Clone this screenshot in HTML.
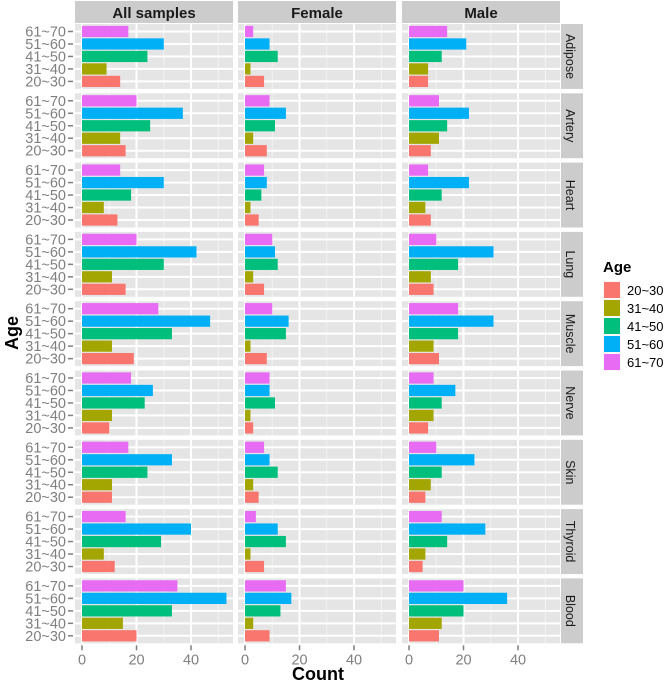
<!DOCTYPE html>
<html><head><meta charset="utf-8"><style>
body{margin:0;background:#fff;}
svg{display:block;font-family:"Liberation Sans",Arial,sans-serif;}
</style></head><body>
<svg id="c" width="671" height="685" viewBox="0 0 671 685" xmlns="http://www.w3.org/2000/svg"></svg>
<script>
const columns = ["All samples","Female","Male"];
const tissues = ["Adipose","Artery","Heart","Lung","Muscle","Nerve","Skin","Thyroid","Blood"];
const ageGroups = ["20~30","31~40","41~50","51~60","61~70"];
const colors = ["#F8766D","#A3A500","#00BF7D","#00B0F6","#E76BF3"];
const xTicks = [0,20,40];
// values per tissue: [20~30, 31~40, 41~50, 51~60, 61~70]
const allSamples = [[14,9,24,30,17],[16,14,25,37,20],[13,8,18,30,14],[16,11,30,42,20],[19,11,33,47,28],[10,11,23,26,18],[11,11,24,33,17],[12,8,29,40,16],[20,15,33,53,35]];
const female = [[7,2,12,9,3],[8,3,11,15,9],[5,2,6,8,7],[7,3,12,11,10],[8,2,15,16,10],[3,2,11,9,9],[5,3,12,9,7],[7,2,15,12,4],[9,3,13,17,15]];
const male = [[7,7,12,21,14],[8,11,14,22,11],[8,6,12,22,7],[9,8,18,31,10],[11,9,18,31,18],[7,9,12,17,9],[6,8,12,24,10],[5,6,14,28,12],[11,12,20,36,20]];
const series = [allSamples,female,male];

const svg = document.getElementById('c');
const NS = "http://www.w3.org/2000/svg";
function mk(tag, attrs, parent){const e=document.createElementNS(NS,tag);for(const k in attrs)e.setAttribute(k,attrs[k]);(parent||svg).appendChild(e);return e;}

const colLeft=[75,238,402], panelW=158, panelTop=24, panelH=64.9, gap=4.4;
const xMin=-2.57, xMax=55.4;
function xs(c,v){return colLeft[c]+(v-xMin)/(xMax-xMin)*panelW;}
function panelY(r){return panelTop+r*(panelH+gap);}
const unit=panelH/5.2;
function ys(r,i){return panelY(r)+ (5.6-(i+1))*unit;}

columns.forEach((name,c)=>{
  const g=mk('g',{});
  
  
  mk('rect',{x:colLeft[c],y:1,width:panelW,height:22,fill:'#cccccc'},g);
  const t=mk('text',{x:colLeft[c]+panelW/2,y:18,'text-anchor':'middle','font-size':15,'font-weight':'bold',fill:'#1a1a1a'},g);
  t.textContent=name;
});
tissues.forEach((name,r)=>{
  const g=mk('g',{});
  
  
  mk('rect',{x:561,y:panelY(r),width:22,height:panelH,fill:'#cccccc'},g);
  const cx=566,cy=panelY(r)+panelH/2;
  const t=mk('text',{x:cx,y:cy,'text-anchor':'middle','font-size':12.5,fill:'#1a1a1a',transform:`rotate(90 ${cx} ${cy})`},g);
  t.textContent=name;
});
for(let r=0;r<tissues.length;r++){
  for(let c=0;c<3;c++){
    const g=mk('g',{});
    
    
    const py=panelY(r);
    mk('rect',{x:colLeft[c],y:py,width:panelW,height:panelH,fill:'#e5e5e5'},g);
    [10,30,50].forEach(v=>mk('line',{x1:xs(c,v),x2:xs(c,v),y1:py,y2:py+panelH,stroke:'#f2f2f2','stroke-width':1},g));
    for(let i=0;i<5;i++){const y=ys(r,i);mk('line',{x1:colLeft[c],x2:colLeft[c]+panelW,y1:y,y2:y,stroke:'#fff','stroke-width':2},g);}
    xTicks.forEach(v=>mk('line',{x1:xs(c,v),x2:xs(c,v),y1:py,y2:py+panelH,stroke:'#fff','stroke-width':2},g));
    const vals=series[c][r];
    vals.forEach((v,i)=>{
      const b=mk('rect',{x:xs(c,0),y:ys(r,i)-unit*0.45,width:xs(c,v)-xs(c,0),height:unit*0.9,fill:colors[i]},g);
      
      
    });
  }
  ageGroups.forEach((a,i)=>{
    const y=ys(r,i);
    mk('line',{x1:68,x2:73,y1:y,y2:y,stroke:'#7f7f7f','stroke-width':1.5});
    const t=mk('text',{x:66,y:y+5,'text-anchor':'end','font-size':14.5,fill:'#7f7f7f'});
    
    
    t.textContent=a;
  });
}
const axisY=panelY(8)+panelH;
for(let c=0;c<3;c++){
  xTicks.forEach(v=>{
    mk('line',{x1:xs(c,v),x2:xs(c,v),y1:axisY+2,y2:axisY+7,stroke:'#7f7f7f','stroke-width':1.5});
    const t=mk('text',{x:xs(c,v),y:axisY+21,'text-anchor':'middle','font-size':14.5,fill:'#7f7f7f'});
    
    
    t.textContent=v;
  });
}
const xt=mk('text',{x:318,y:680,'text-anchor':'middle','font-size':18,'font-weight':'bold',fill:'#000'});


xt.textContent='Count';
const yt=mk('text',{x:18,y:333,'text-anchor':'middle','font-size':18,'font-weight':'bold',fill:'#000',transform:'rotate(-90 18 333)'});


yt.textContent='Age';
const lg=mk('g',{});


const lt=mk('text',{x:603,y:272,'font-size':15,'font-weight':'bold',fill:'#000'},lg);
lt.textContent='Age';
ageGroups.forEach((a,i)=>{
  const y=281+i*18;
  const e=mk('g',{},lg);
  
  
  mk('rect',{x:603,y:y,width:18,height:18,fill:'#f2f2f2',stroke:'#fff'},e);
  mk('rect',{x:604,y:y+1,width:16,height:16,fill:colors[i]},e);
  const t=mk('text',{x:627,y:y+14,'font-size':13,fill:'#000'},e);
  t.textContent=a;
});
</script>
</body></html>
